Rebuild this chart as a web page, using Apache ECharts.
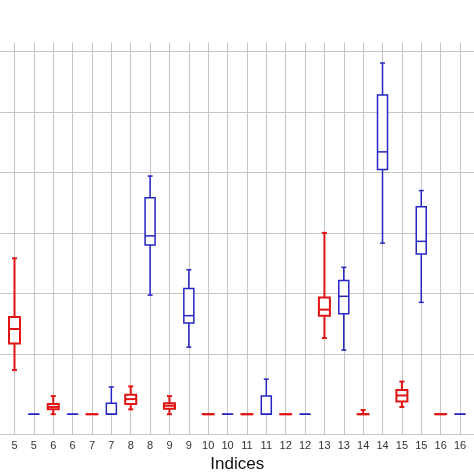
<!DOCTYPE html>
<html>
<head>
<meta charset="utf-8">
<script src="https://cdn.jsdelivr.net/npm/echarts@6/dist/echarts.min.js"></script>
<style>
  html, body { margin: 0; padding: 0; background: #ffffff; }
  #chart { width: 474px; height: 474px; }
</style>
</head>
<body>
<div id="chart"></div>
<script>
// X tick labels (red and blue alternate per index)
const categories = ['5','5','6','6','7','7','8','8','9','9','10','10','11','11','12','12','13','13','14','14','15','15','16','16'];

// Box statistics [min, Q1, median, Q3, max] for indices 5..16
const redBoxes = [
  [0.73, 1.17, 1.41, 1.61, 2.58],  // 5
  [0.00, 0.08, 0.12, 0.17, 0.30],  // 6
  [0.00, 0.00, 0.00, 0.00, 0.00],  // 7
  [0.08, 0.17, 0.25, 0.32, 0.46],  // 8
  [0.00, 0.09, 0.14, 0.18, 0.30],  // 9
  [0.00, 0.00, 0.00, 0.00, 0.00],  // 10
  [0.00, 0.00, 0.00, 0.00, 0.00],  // 11
  [0.00, 0.00, 0.00, 0.00, 0.00],  // 12
  [1.26, 1.63, 1.73, 1.93, 3.00],  // 13
  [0.00, 0.00, 0.00, 0.00, 0.07],  // 14
  [0.12, 0.21, 0.31, 0.40, 0.54],  // 15
  [0.00, 0.00, 0.00, 0.00, 0.00]   // 16
];
const blueBoxes = [
  [0.00, 0.00, 0.00, 0.00, 0.00],  // 5
  [0.00, 0.00, 0.00, 0.00, 0.00],  // 6
  [0.00, 0.00, 0.00, 0.18, 0.45],  // 7
  [1.97, 2.80, 2.95, 3.58, 3.94],  // 8
  [1.11, 1.51, 1.63, 2.08, 2.39],  // 9
  [0.00, 0.00, 0.00, 0.00, 0.00],  // 10
  [0.00, 0.00, 0.00, 0.30, 0.58],  // 11
  [0.00, 0.00, 0.00, 0.00, 0.00],  // 12
  [1.06, 1.66, 1.95, 2.21, 2.43],  // 13
  [2.83, 4.05, 4.34, 5.28, 5.81],  // 14
  [1.85, 2.65, 2.86, 3.43, 3.70],  // 15
  [0.00, 0.00, 0.00, 0.00, 0.00]   // 16
];

const Y_MIN = -0.3275, Y_MAX = 6.146;
const RED = '#e01414', BLUE = '#2626c2', GRID = '#c6c6c6';

function makeRender(color, lw, boxHalf, capHalf) {
  return function (params, api) {
    const x = api.value(0);
    const p = [1, 2, 3, 4, 5].map(k => api.coord([x, api.value(k)]));
    const cx = p[0][0];
    const yMin = p[0][1], yQ1 = p[1][1], yMed = p[2][1], yQ3 = p[3][1], yMax = p[4][1];
    const st = { stroke: color, lineWidth: lw, fill: null };
    const children = [];
    if (yMax < yQ3 - 0.1) {
      children.push({ type: 'line', shape: { x1: cx, y1: yQ3, x2: cx, y2: yMax }, style: st });
      children.push({ type: 'line', shape: { x1: cx - capHalf, y1: yMax, x2: cx + capHalf, y2: yMax }, style: st });
    }
    if (yMin > yQ1 + 0.1) {
      children.push({ type: 'line', shape: { x1: cx, y1: yQ1, x2: cx, y2: yMin }, style: st });
      children.push({ type: 'line', shape: { x1: cx - capHalf, y1: yMin, x2: cx + capHalf, y2: yMin }, style: st });
    }
    children.push({ type: 'rect', shape: { x: cx - boxHalf, y: yQ3, width: boxHalf * 2, height: Math.max(yQ1 - yQ3, 0.01) },
      style: { stroke: color, lineWidth: lw, fill: '#ffffff' } });
    children.push({ type: 'line', shape: { x1: cx - boxHalf, y1: yMed, x2: cx + boxHalf, y2: yMed }, style: st });
    return { type: 'group', children: children };
  };
}

const redData = redBoxes.map((b, i) => [2 * i].concat(b));
const blueData = blueBoxes.map((b, i) => [2 * i + 1].concat(b));

const chart = echarts.init(document.getElementById('chart'), null, { renderer: 'canvas' });
chart.setOption({
  animation: false,
  backgroundColor: '#ffffff',
  grid: [
    { left: 14.5, right: 14, top: 42.7, bottom: 40, containLabel: false, outerBoundsMode: 'none' },
    { left: 0, right: 0, top: 42.7, bottom: 40, containLabel: false, outerBoundsMode: 'none' }
  ],
  xAxis: [
    {
      type: 'category', gridIndex: 0, data: categories, boundaryGap: false,
      axisLine: { show: false }, axisTick: { show: false },
      axisLabel: { interval: 0, fontSize: 11, color: '#333333', margin: 6, fontFamily: 'Liberation Sans' },
      splitLine: { show: true, interval: 0, lineStyle: { color: GRID, width: 1 } },
      name: 'Indices', nameLocation: 'middle', nameGap: 20,
      nameTextStyle: { fontSize: 17, color: '#111111', fontFamily: 'Liberation Sans' }
    },
    {
      type: 'value', gridIndex: 1, min: 0, max: 1,
      axisLine: { show: true, onZero: false, lineStyle: { color: GRID, width: 1 } },
      axisTick: { show: false }, axisLabel: { show: false }, splitLine: { show: false }
    }
  ],
  yAxis: [
    { type: 'value', gridIndex: 0, min: Y_MIN, max: Y_MAX, show: false, splitLine: { show: false } },
    {
      type: 'value', gridIndex: 1, min: Y_MIN, max: Y_MAX, minInterval: 1, maxInterval: 1,
      axisLine: { show: false }, axisTick: { show: false }, axisLabel: { show: false },
      splitLine: { show: true, showMinLine: false, showMaxLine: false,
        lineStyle: { color: ['rgba(0,0,0,0)', GRID, GRID, GRID, GRID, GRID, GRID], width: 1 } }
    }
  ],
  series: [
    { type: 'custom', xAxisIndex: 0, yAxisIndex: 0, data: redData, renderItem: makeRender(RED, 2, 5.5, 2.5), z: 5,
      encode: { x: 0, y: [1, 2, 3, 4, 5] } },
    { type: 'custom', xAxisIndex: 0, yAxisIndex: 0, data: blueData, renderItem: makeRender(BLUE, 1.5, 5, 2.5), z: 5,
      encode: { x: 0, y: [1, 2, 3, 4, 5] } }
  ]
});
</script>
</body>
</html>
